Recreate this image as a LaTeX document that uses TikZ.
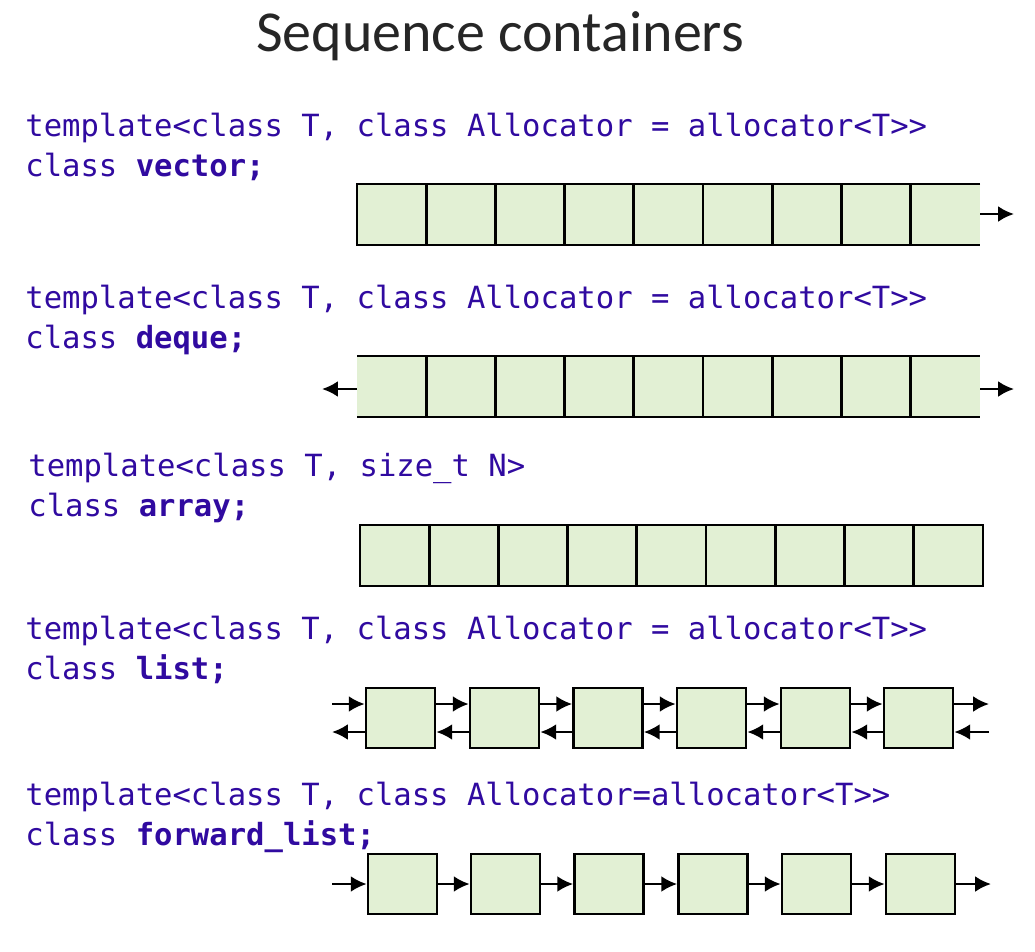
\documentclass[tikz,border=0pt]{standalone}
\usepackage{fontspec}
\newfontfamily\codefont{DejaVu Sans Mono}
\newfontfamily\titlefont{Carlito}
\usetikzlibrary{arrows.meta}
\definecolor{code}{RGB}{48,10,160}
\definecolor{cell}{RGB}{226,240,212}
\begin{document}
\begin{tikzpicture}[x=0.02cm,y=-0.02cm,
  code/.style={anchor=base west,inner sep=0pt,text=code,font=\codefont\fontsize{17.4}{20}\selectfont},
  ln/.style={line width=1.5pt},
  arr/.style={ln,-{Latex[length=9pt,width=9pt]}},
  box/.style={draw,ln,fill=cell,minimum width=1.38cm,minimum height=1.2cm,inner sep=0pt}]
\useasboundingbox (0,0) rectangle (1035,951);
\node[font=\titlefont\fontsize{33}{36}\selectfont,text=black!85] (title) at (500,36) {Sequence containers};
% vector
\node[code] (v1) at (25,136) {template<class T, class Allocator = allocator<T>>};
\node[code] (v2) at (25,176) {class \textbf{vector;}};
\fill[cell] (357,184) rectangle (980,245);
\draw[ln] (980,184) -- (357,184) -- (357,245) -- (980,245);
\foreach \k in {1,...,8} \draw[ln] (357+69.2*\k,184) -- (357+69.2*\k,245);
\coordinate (va) at (980,214); \coordinate (vb) at (1014,214);
\draw[arr] (va) -- (vb);
% deque
\node[code] (d1) at (25,308) {template<class T, class Allocator = allocator<T>>};
\node[code] (d2) at (25,348) {class \textbf{deque;}};
\fill[cell] (357,356) rectangle (980,417);
\draw[ln] (357,356) -- (980,356) (357,417) -- (980,417);
\foreach \k in {1,...,8} \draw[ln] (357+69.2*\k,356) -- (357+69.2*\k,417);
\coordinate (da) at (980,389); \coordinate (db) at (1014,389);
\coordinate (dc) at (357,389); \coordinate (dd) at (322,389);
\draw[arr] (da) -- (db); \draw[arr] (dc) -- (dd);
% array
\node[code] (a1) at (28,476) {template<class T, size\_t N>};
\node[code] (a2) at (28,516) {class \textbf{array;}};
\draw[ln,fill=cell] (360,525) rectangle (983,586);
\foreach \k in {1,...,8} \draw[ln] (360+69.2*\k,525) -- (360+69.2*\k,586);
% list
\node[code] (l1) at (25,639) {template<class T, class Allocator = allocator<T>>};
\node[code] (l2) at (25,679) {class \textbf{list;}};
\foreach \i/\x in {1/400.5,2/504.5,3/608,4/711.5,5/815.5,6/918.5}
  \node[box] (L\i) at (\x,718) {};
\coordinate (Ls) at (332,704); \coordinate (Lsb) at (332,732);
\coordinate (Le) at (989,704); \coordinate (Leb) at (989,732);
\draw[arr] (Ls) -- (L1.west|-Ls);
\draw[arr] (L1.west|-Lsb) -- (Lsb);
\foreach \a/\b in {1/2,2/3,3/4,4/5,5/6}{
  \draw[arr] (L\a.east|-Ls) -- (L\b.west|-Ls);
  \draw[arr] (L\b.west|-Lsb) -- (L\a.east|-Lsb);}
\draw[arr] (L6.east|-Le) -- (Le);
\draw[arr] (Leb) -- (L6.east|-Leb);
% forward_list
\node[code] (f1) at (25,805) {template<class T, class Allocator=allocator<T>>};
\node[code] (f2) at (25,845) {class \textbf{forward\_list;}};
\foreach \i/\x in {1/402.5,2/505.5,3/609,4/713,5/816.5,6/920.5}
  \node[box] (F\i) at (\x,884) {};
\coordinate (Fs) at (332,884); \coordinate (Fe) at (991,884);
\draw[arr] (Fs) -- (F1);
\foreach \a/\b in {1/2,2/3,3/4,4/5,5/6} \draw[arr] (F\a) -- (F\b);
\draw[arr] (F6) -- (Fe);
\end{tikzpicture}
\end{document}
